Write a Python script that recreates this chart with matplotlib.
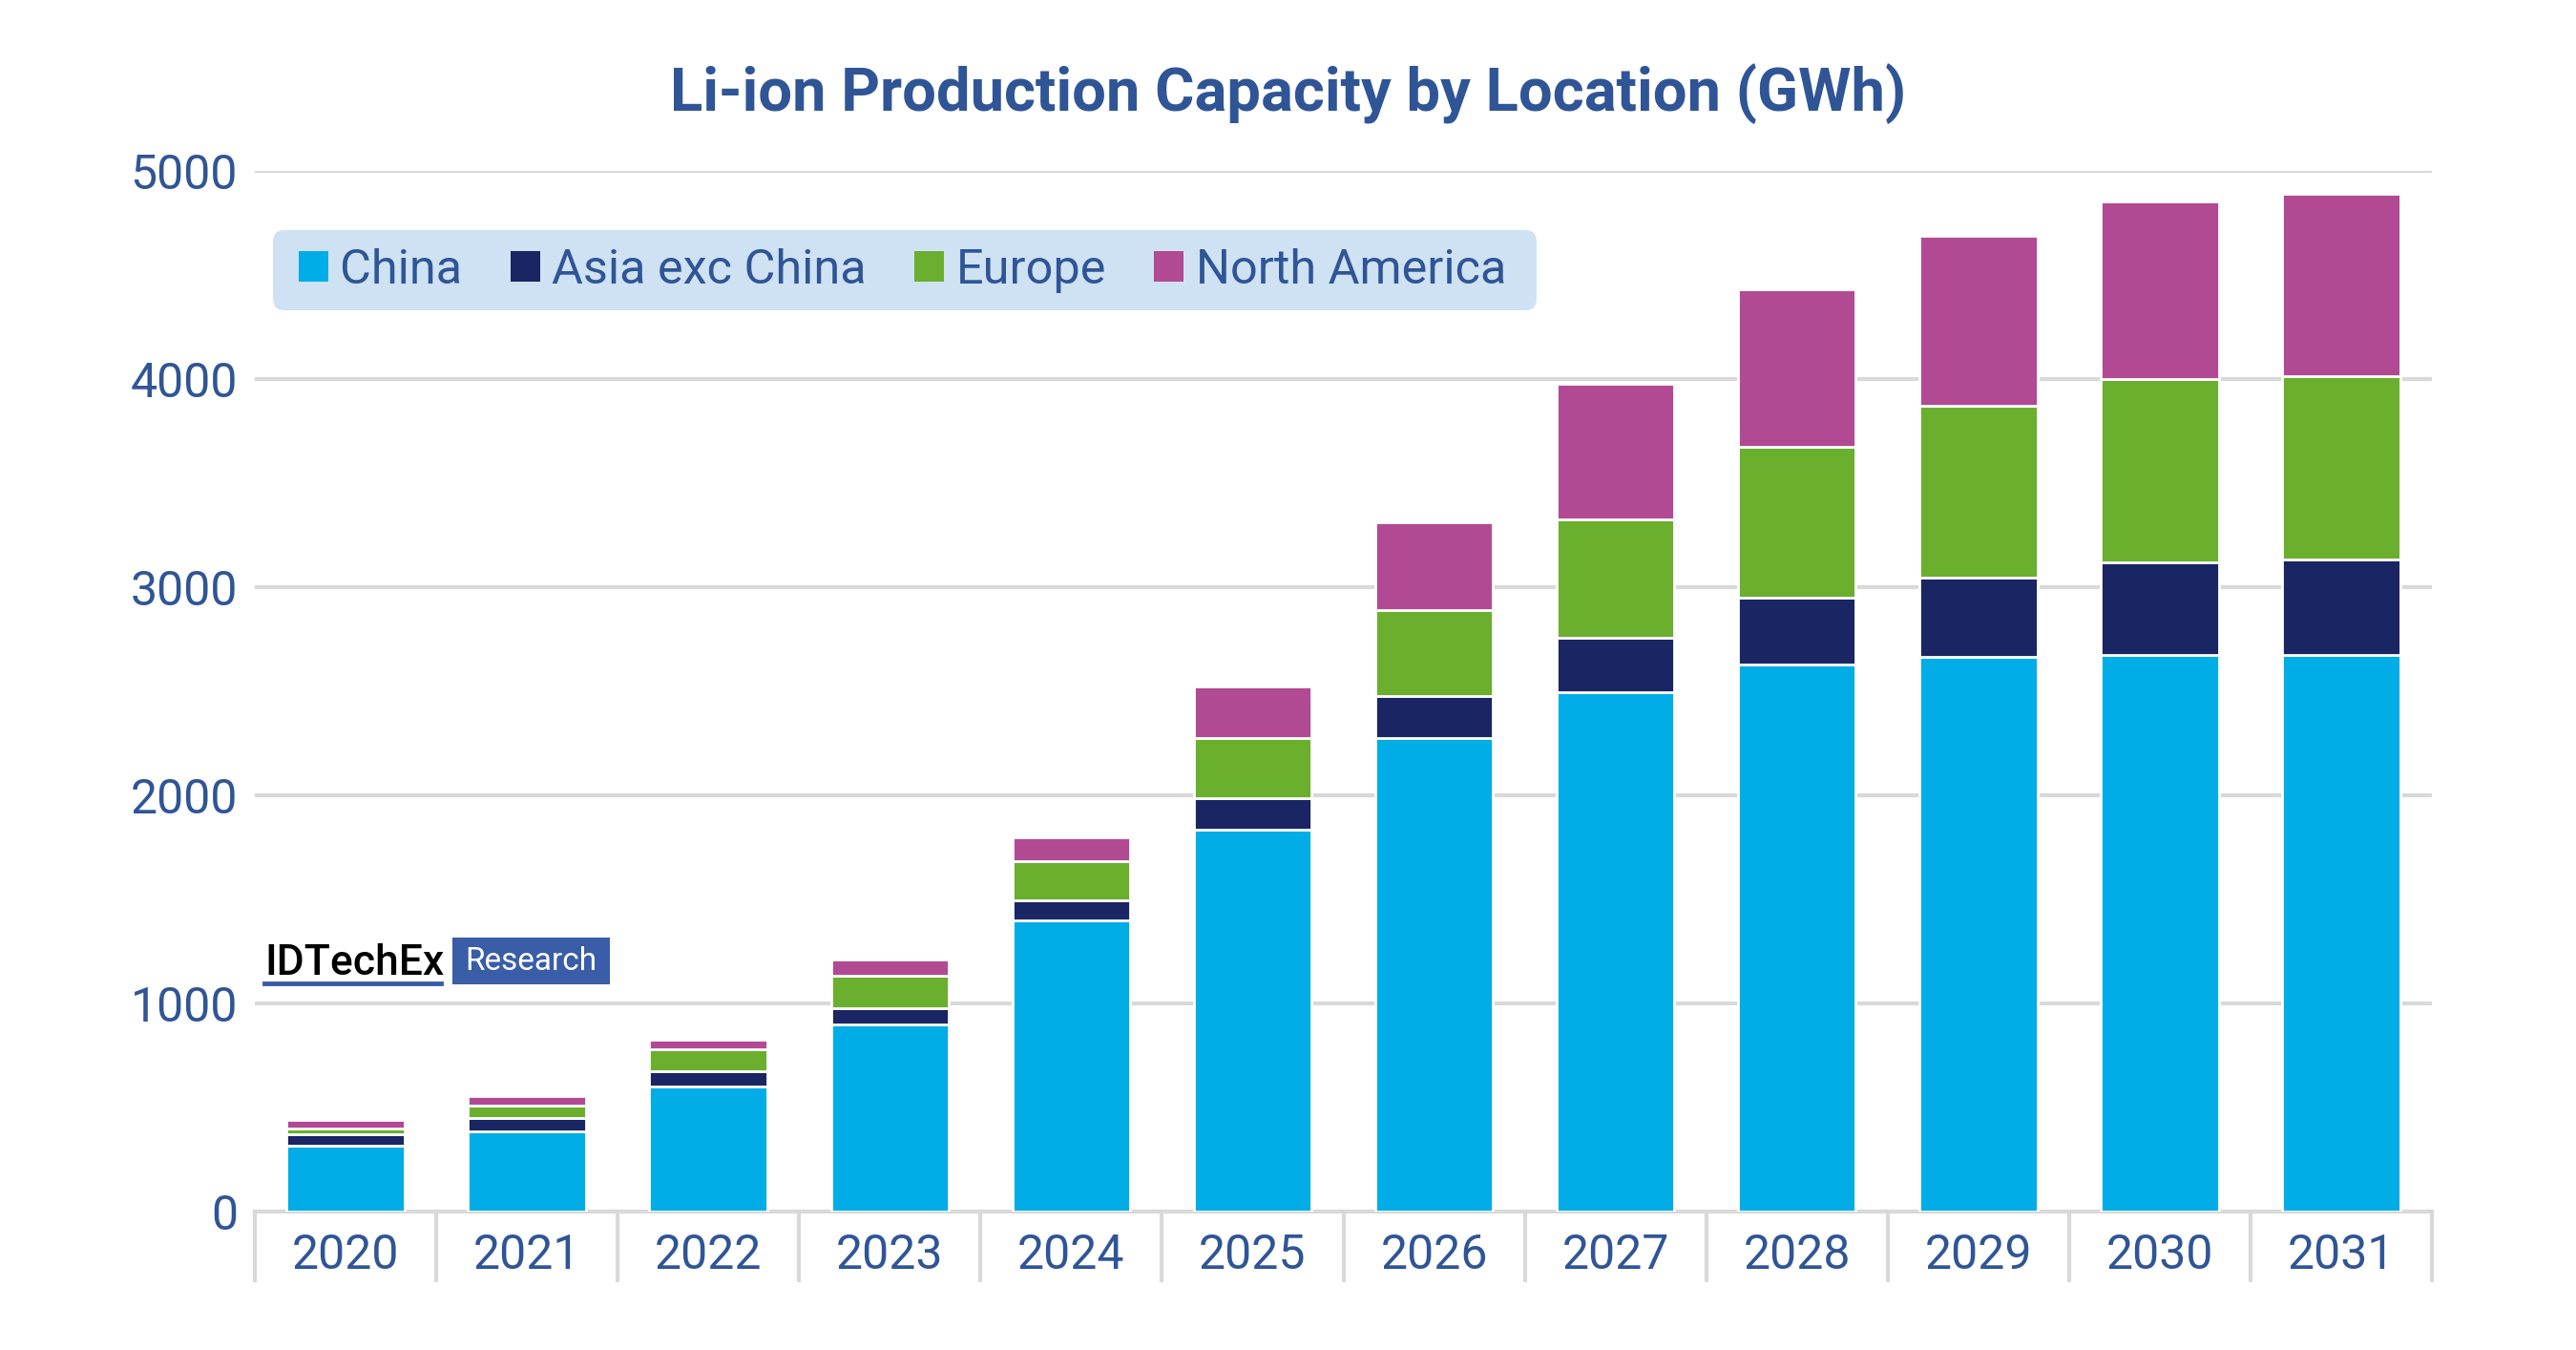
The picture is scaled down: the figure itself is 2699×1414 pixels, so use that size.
import matplotlib
matplotlib.use("Agg")
import matplotlib.pyplot as plt
from matplotlib.patches import Patch, Rectangle, FancyBboxPatch
from matplotlib.lines import Line2D
from matplotlib.transforms import IdentityTransform
import numpy as np

years = ["2020", "2021", "2022", "2023", "2024", "2025", "2026", "2027", "2028", "2029", "2030", "2031"]
china = [316, 387, 603, 897, 1398, 1834, 2273, 2496, 2630, 2666, 2674, 2674]
asia_exc_china = [54, 61, 70, 82, 96, 153, 206, 263, 321, 381, 447, 458]
europe = [27, 63, 108, 153, 188, 286, 413, 566, 725, 825, 877, 884]
north_america = [42, 46, 43, 77, 115, 249, 418, 650, 754, 817, 854, 873]
series_names = ["China", "Asia exc China", "Europe", "North America"]
series_colors = ["#00ADE6", "#1A2563", "#6AAF2E", "#B24A93"]
yticks = [0, 1000, 2000, 3000, 4000, 5000]
title = "Li-ion Production Capacity by Location (GWh)"

TEXT = "#2F5597"
GRID = "#D9D9D9"

plt.rcParams['font.family'] = ['Roboto', 'DejaVu Sans']

W, H = 2699, 1414
fig = plt.figure(figsize=(W / 100, H / 100), dpi=100)
L, R, B, T = 267, 2548, 1269, 179
ax = fig.add_axes([L / W, 1 - B / H, (R - L) / W, (B - T) / H])

x = np.arange(len(years))
bottom = np.zeros(len(years))
for name, vals, c in zip(series_names, [china, asia_exc_china, europe, north_america], series_colors):
    ax.bar(x, vals, width=0.65, bottom=bottom, color=c, edgecolor="white",
           linewidth=2, label=name, zorder=3)
    bottom += np.array(vals)

ax.set_xlim(-0.5, len(years) - 0.5)
ax.set_ylim(0, 5000)
ax.set_yticks(yticks)
ax.set_yticklabels([str(v) for v in yticks])
ax.yaxis.grid(True, color=GRID, linewidth=3, zorder=0)
ax.set_axisbelow(True)
for s in ["top", "right", "left"]:
    ax.spines[s].set_visible(False)
ax.spines["bottom"].set_color(GRID)
ax.spines["bottom"].set_linewidth(3)

ax.tick_params(axis="y", length=0, pad=13, labelsize=36, labelcolor=TEXT)
ax.set_xticks(x)
ax.set_xticklabels(years)
ax.tick_params(axis="x", which="major", length=0, pad=16, labelsize=36, labelcolor=TEXT)
ax.set_xticks(np.arange(-0.5, len(years), 1), minor=True)
ax.tick_params(axis="x", which="minor", length=53, width=3, color=GRID, direction="out")

fig.text(1350 / W, 1 - 98 / H, title, fontsize=45.5, fontweight="bold", color=TEXT,
         ha="center", va="center")

# legend background (rounded light-blue panel)
fig.add_artist(FancyBboxPatch((286, H - 325), 1610 - 286, 325 - 241,
                              boxstyle="round,pad=0,rounding_size=12",
                              facecolor="#CFE2F3", edgecolor="none",
                              transform=IdentityTransform(), zorder=1))
handles = [Patch(facecolor=c, edgecolor="none", label=n) for n, c in zip(series_names, series_colors)]
leg = fig.legend(handles=handles, loc="center left", bbox_to_anchor=(313 / W, 1 - 283 / H),
                 ncol=4, fontsize=36.3, frameon=False,
                 handlelength=0.61, handleheight=0.61, handletextpad=0.25,
                 columnspacing=1.0, borderpad=0, borderaxespad=0, labelcolor=TEXT)
leg.set_zorder(2)

# IDTechEx logo
fig.text(277 / W, 1 - 1021 / H, "IDTechEx", fontsize=32, color="black", ha="left",
         va="baseline", fontweight="medium")
fig.add_artist(Line2D([277 / W, 462 / W], [1 - 1030 / H, 1 - 1030 / H], color="#3A5DA8",
                      linewidth=3.5, transform=fig.transFigure))
fig.add_artist(Rectangle((474 / W, 1 - 1031 / H), (639 - 474) / W, (1031 - 982) / H,
                         facecolor="#3A5DA8", edgecolor="none", transform=fig.transFigure))
fig.text((474 + 639) / 2 / W, 1 - 1007 / H, "Research", fontsize=24, color="white",
         ha="center", va="center")

fig.savefig("out.png", dpi=100)
